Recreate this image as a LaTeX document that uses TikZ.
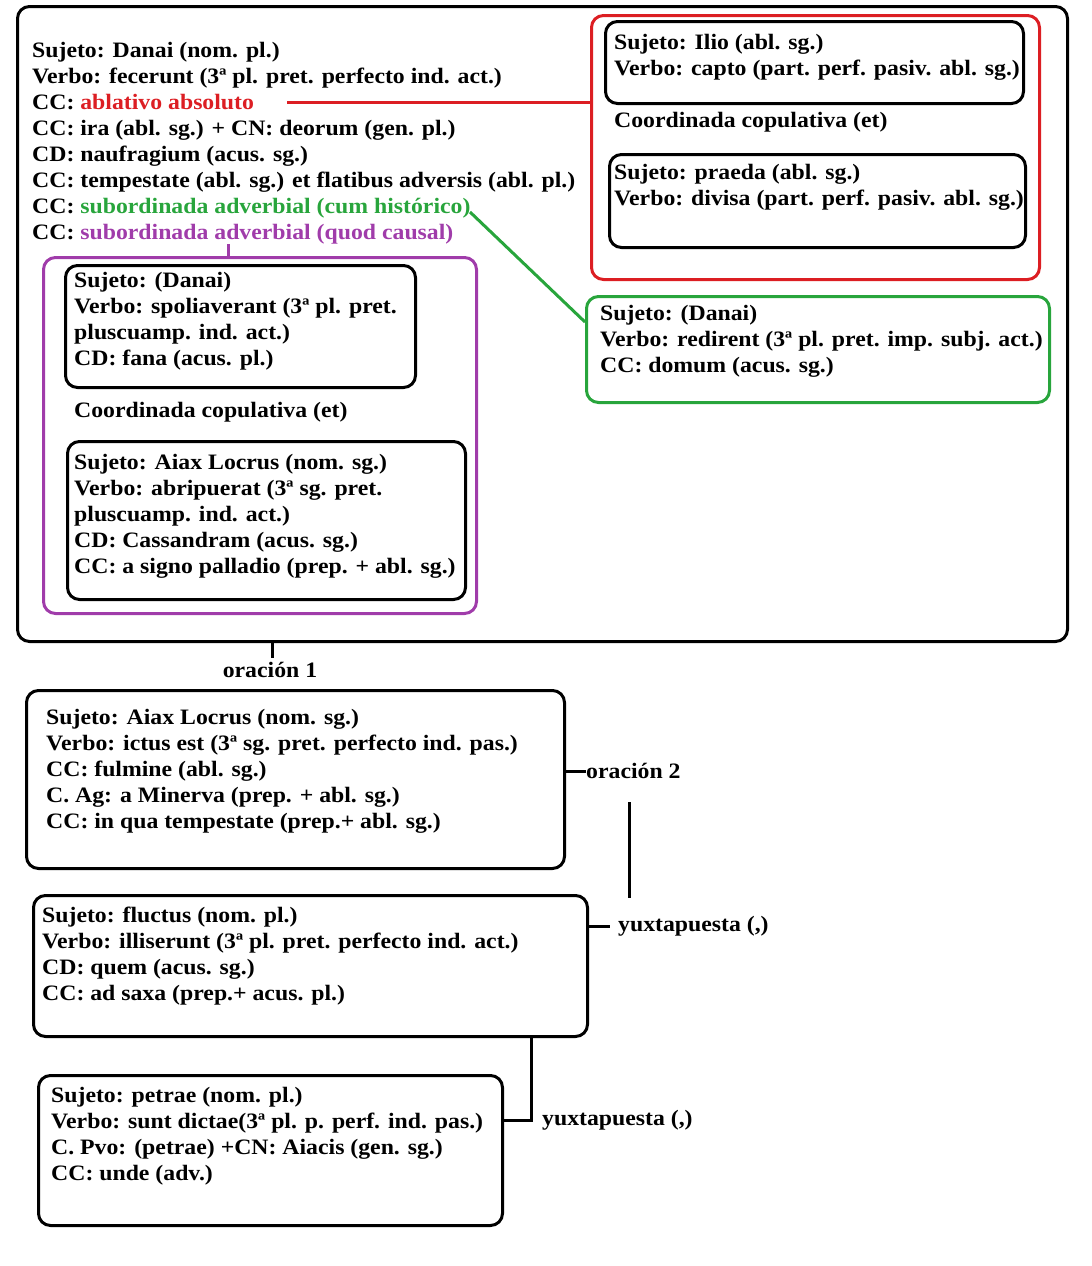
\documentclass[tikz,border=0pt]{standalone}
\usepackage{fontspec}
\setmainfont[FakeStretch=1.08]{Liberation Serif}
\definecolor{myred}{RGB}{220,30,35}
\definecolor{mygreen}{RGB}{40,165,60}
\definecolor{mypurple}{RGB}{160,60,170}
\begin{document}
\begin{tikzpicture}[x=1pt,y=-1pt,
  box/.style={draw,line width=3pt,rounded corners=12pt,anchor=north west,inner sep=0pt},
  txt/.style={anchor=north west,inner sep=0pt,align=left,font=\fontsize{22}{26}\selectfont\bfseries},
  lbl/.style={anchor=west,inner sep=0pt,font=\fontsize{22}{26}\selectfont\bfseries},
  ln/.style={line width=3pt}]
\useasboundingbox (0,0) rectangle (1092,1266);
% boxes
\node[box,minimum width=1050pt,minimum height=635pt] (outer) at (16,5) {};
\node[box,draw=myred,minimum width=448pt,minimum height=264pt] (red) at (590,14) {};
\node[box,minimum width=418pt,minimum height=82pt] (r1) at (604,20) {};
\node[box,minimum width=416pt,minimum height=93pt] (r2) at (608,153) {};
\node[box,draw=mygreen,minimum width=463pt,minimum height=106pt] (green) at (585,295) {};
\node[box,draw=mypurple,minimum width=433pt,minimum height=356pt] (purple) at (42,256) {};
\node[box,minimum width=350pt,minimum height=122pt] (p1) at (64,264) {};
\node[box,minimum width=398pt,minimum height=158pt] (p2) at (66,440) {};
\node[box,minimum width=538pt,minimum height=178pt] (o2) at (25,689) {};
\node[box,minimum width=554pt,minimum height=141pt] (b3) at (32,894) {};
\node[box,minimum width=464pt,minimum height=150pt] (b4) at (37,1074) {};
% texts
\node[txt] (main) at (32,42) {Sujeto: Danai (nom. pl.)\\
Verbo: fecerunt (3ª pl. pret. perfecto ind. act.)\\
CC: \textcolor{myred}{ablativo absoluto}\\
CC: ira (abl. sg.) + CN: deorum (gen. pl.)\\
CD: naufragium (acus. sg.)\\
CC: tempestate (abl. sg.) et flatibus adversis (abl. pl.)\\
CC: \textcolor{mygreen}{subordinada adverbial (cum histórico)}\\
CC: \textcolor{mypurple}{subordinada adverbial (quod causal)}};
\node[txt] at (614,34) {Sujeto: Ilio (abl. sg.)\\Verbo: capto (part. perf. pasiv. abl. sg.)};
\node[txt] at (614,112) {Coordinada copulativa (et)};
\node[txt] at (614,164) {Sujeto: praeda (abl. sg.)\\Verbo: divisa (part. perf. pasiv. abl. sg.)};
\node[txt] at (600,305) {Sujeto: (Danai)\\Verbo: redirent (3ª pl. pret. imp. subj. act.)\\CC: domum (acus. sg.)};
\node[txt] at (74,272) {Sujeto: (Danai)\\Verbo: spoliaverant (3ª pl. pret.\\pluscuamp. ind. act.)\\CD: fana (acus. pl.)};
\node[txt] at (74,402) {Coordinada copulativa (et)};
\node[txt] at (74,454) {Sujeto: Aiax Locrus (nom. sg.)\\Verbo: abripuerat (3ª sg. pret.\\pluscuamp. ind. act.)\\CD: Cassandram (acus. sg.)\\CC: a signo palladio (prep. + abl. sg.)};
\node[txt] at (46,709) {Sujeto: Aiax Locrus (nom. sg.)\\Verbo: ictus est (3ª sg. pret. perfecto ind. pas.)\\CC: fulmine (abl. sg.)\\C. Ag: a Minerva (prep. + abl. sg.)\\CC: in qua tempestate (prep.+ abl. sg.)};
\node[txt] at (42,907) {Sujeto: fluctus (nom. pl.)\\Verbo: illiserunt (3ª pl. pret. perfecto ind. act.)\\CD: quem (acus. sg.)\\CC: ad saxa (prep.+ acus. pl.)};
\node[txt] at (51,1087) {Sujeto: petrae (nom. pl.)\\Verbo: sunt dictae(3ª pl. p. perf. ind. pas.)\\C. Pvo: (petrae) +CN: Aiacis (gen. sg.)\\CC: unde (adv.)};
% labels & connectors
\coordinate (redstart) at (287,102);
\draw[ln,myred] (redstart) -- (red.west|-redstart);
\coordinate (gstart) at (470,212);
\coordinate (gend) at (585,322);
\draw[ln,mygreen] (gstart) -- (gend);
\coordinate (pt) at (228,244);
\draw[ln,mypurple] (pt) -- (purple.north-|pt);
\node[lbl,anchor=center] (l1) at (270,670) {oración 1};
\draw[ln] (outer.south-|272,0) -- (272,658);
\node[lbl] (l2) at (586,771) {oración 2};
\draw[ln] (o2.east|-l2) -- (l2.west);
\coordinate (v1) at (629,802);
\coordinate (v2) at (629,898);
\draw[ln] (v1) -- (v2);
\node[lbl] (l3) at (618,926) {yuxtapuesta (,)};
\draw[ln] (b3.east|-l3) -- (610,926);
\node[lbl] (l4) at (542,1120) {yuxtapuesta (,)};
\draw[ln] (b3.south-|531,0) -- (531,1120) -- (b4.east|-l4);
\end{tikzpicture}
\end{document}
